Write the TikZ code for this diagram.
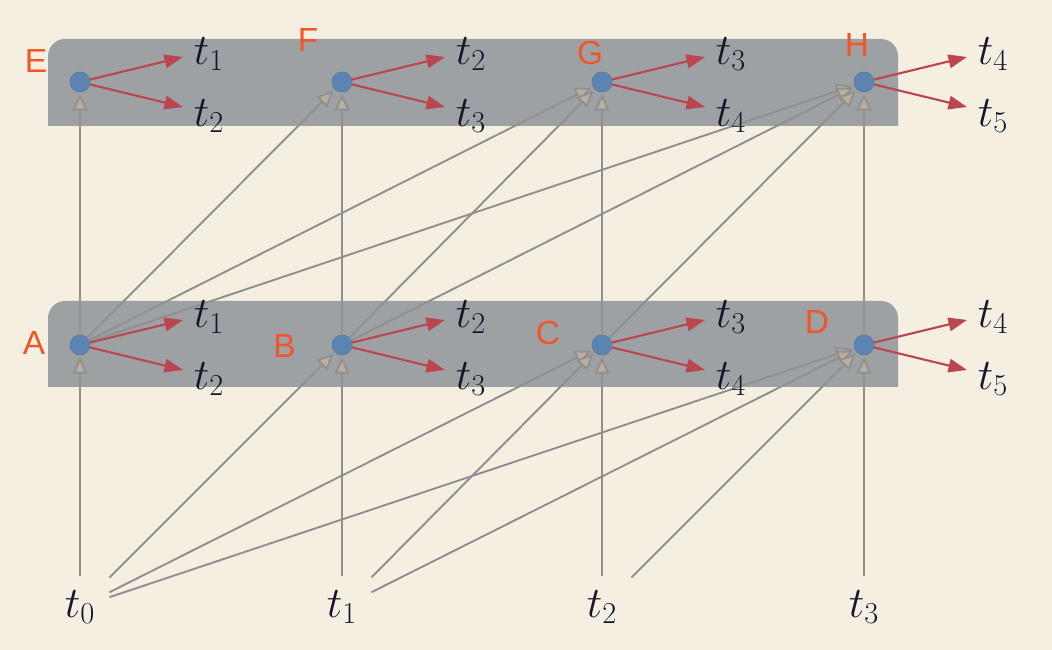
\documentclass[tikz,border=0pt]{standalone}
\usepackage{fontspec}
\newfontfamily\tagfont{Liberation Sans}
\usetikzlibrary{arrows.meta}

\definecolor{bgcream}{HTML}{F4EFE0}
\definecolor{boxgray}{HTML}{9EA1A3}
\definecolor{dotblue}{HTML}{5B84B1}
\definecolor{tagorange}{HTML}{F0562A}
\definecolor{edgegray}{HTML}{909090}
\definecolor{tipfill}{HTML}{BBAE9F}
\definecolor{emitred}{HTML}{BC4650}
\definecolor{textnavy}{HTML}{16162A}

\tikzset{
  bluedot/.style={circle, fill=dotblue, draw=dotblue!80!black, line width=0.3pt,
    minimum size=0.4cm, inner sep=0pt},
  tag/.style={text=tagorange, font=\tagfont\fontsize{19}{23}\selectfont},
  tlab/.style={text=textnavy, font=\fontsize{24.5}{29}\selectfont},
  src/.style={tlab, inner sep=0.28cm},
  feed/.style={draw=edgegray, line width=1.1pt, shorten >=1pt,
    -{Triangle[length=0.33cm, width=0.3cm, fill=tipfill]}},
  emit/.style={draw=emitred, line width=1.2pt,
    -{Triangle[length=0.37cm, width=0.27cm]}},
}

\begin{document}
\begin{tikzpicture}
  \fill[bgcream] (0,0) rectangle (21.04,13);
  \useasboundingbox (0,0) rectangle (21.04,13);

  % layer boxes
  \fill[boxgray] (0.96,10.48) [rounded corners=0.34cm] -- (0.96,12.22)
    -- (17.96,12.22) [sharp corners] -- (17.96,10.48) -- cycle;
  \fill[boxgray] (0.96,5.26) [rounded corners=0.34cm] -- (0.96,6.98)
    -- (17.96,6.98) [sharp corners] -- (17.96,5.26) -- cycle;

  % states
  \foreach \n/\x in {A/1.6, B/6.84, C/12.04, D/17.28}
    \node[bluedot] (\n) at (\x,6.1) {};
  \foreach \n/\x in {E/1.6, F/6.84, G/12.04, H/17.28}
    \node[bluedot] (\n) at (\x,11.36) {};

  % inputs
  \foreach \i/\x in {0/1.6, 1/6.84, 2/12.04, 3/17.28}
    \node[src] (t\i) at (\x,0.86) {$t_\i$};

  % gray feeds
  \foreach \s/\d in {t0/A, t0/B, t0/C, t0/D, t1/B, t1/C, t1/D, t2/C, t2/D, t3/D,
                     A/E, A/F, A/G, A/H, B/F, B/G, B/H, C/G, C/H, D/H}
    \draw[feed] (\s) -- (\d);

  % red outputs
  \foreach \n/\a/\b in {E/1/2, F/2/3, G/3/4, H/4/5, A/1/2, B/2/3, C/3/4, D/4/5} {
    \coordinate (\n-hi) at ([shift={(2.06,0.5)}]\n);
    \coordinate (\n-lo) at ([shift={(2.06,-0.5)}]\n);
    \draw[emit] (\n) -- (\n-hi);
    \draw[emit] (\n) -- (\n-lo);
    \node[tlab] (\n-ta) at ([shift={(2.58,0.56)}]\n) {$t_\a$};
    \node[tlab] (\n-tb) at ([shift={(2.58,-0.68)}]\n) {$t_\b$};
  }

  % redraw dots on top
  \foreach \n in {A,B,C,D,E,F,G,H}
    \fill[dotblue] (\n) circle (0.2cm);

  % state names
  \foreach \n/\dx/\dy in {E/-0.88/0.42, F/-0.68/0.84, G/-0.24/0.58, H/-0.14/0.74,
                          A/-0.92/0.04, B/-1.15/-0.02, C/-1.08/0.24, D/-0.94/0.46}
    \node[tag] (l\n) at ([shift={(\dx,\dy)}]\n) {\n};
\end{tikzpicture}
\end{document}
